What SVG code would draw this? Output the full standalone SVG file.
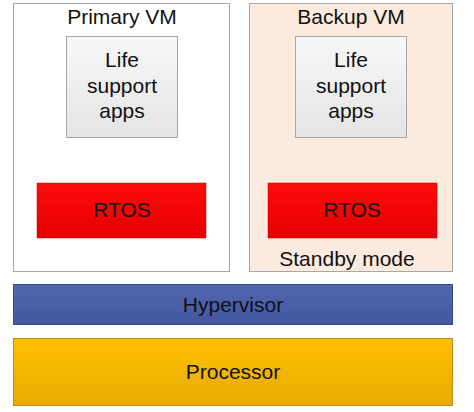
<svg xmlns="http://www.w3.org/2000/svg" width="474" height="412" viewBox="0 0 474 412">
<style>
text{font-family:"Liberation Sans",Arial,sans-serif;font-size:21px;fill:#111;text-anchor:middle}
.vm{stroke:#a6a6a6;stroke-width:1}
.life{fill:url(#gLife);stroke:#a6a6a6;stroke-width:1}
.rtos{fill:url(#gRed);stroke:#c00000;stroke-width:0.5}
</style>
<defs>
<linearGradient id="gLife" x1="0" y1="0" x2="0" y2="1"><stop offset="0" stop-color="#f7f7f7"/><stop offset="1" stop-color="#e4e4e4"/></linearGradient>
<linearGradient id="gRed" x1="0" y1="0" x2="0" y2="1"><stop offset="0" stop-color="#ff0a0a"/><stop offset="1" stop-color="#e60000"/></linearGradient>
<linearGradient id="gBlue" x1="0" y1="0" x2="0" y2="1"><stop offset="0" stop-color="#4f66b0"/><stop offset="1" stop-color="#44589f"/></linearGradient>
<linearGradient id="gGold" x1="0" y1="0" x2="0" y2="1"><stop offset="0" stop-color="#ffc000"/><stop offset="1" stop-color="#e8aa00"/></linearGradient>
</defs>
<g id="primary-vm">
<rect class="vm" x="13.5" y="3.5" width="216" height="268" fill="#ffffff"/>
<text x="122" y="24">Primary VM</text>
</g>
<g id="primary-apps">
<rect class="life" x="66.5" y="36.5" width="111" height="101"/>
<text x="122" y="67">Life</text>
<text x="122" y="93">support</text>
<text x="122" y="118">apps</text>
</g>
<g id="primary-rtos">
<rect class="rtos" x="37" y="183" width="169" height="55"/>
<text x="122" y="217">RTOS</text>
</g>
<g id="backup-vm">
<rect class="vm" x="249.5" y="3.5" width="203" height="268" fill="#fbeade"/>
<text x="351" y="24">Backup VM</text>
<text x="347" y="266">Standby mode</text>
</g>
<g id="backup-apps">
<rect class="life" x="295.5" y="36.5" width="111" height="101"/>
<text x="351" y="67">Life</text>
<text x="351" y="93">support</text>
<text x="351" y="118">apps</text>
</g>
<g id="backup-rtos">
<rect class="rtos" x="268" y="183" width="169" height="55"/>
<text x="352" y="217">RTOS</text>
</g>
<g id="hypervisor">
<rect x="13.5" y="284.5" width="439" height="40" fill="url(#gBlue)" stroke="#3a4d8c" stroke-width="1"/>
<text x="233" y="312">Hypervisor</text>
</g>
<g id="processor">
<rect x="13.5" y="338.5" width="439" height="67" fill="url(#gGold)" stroke="#b88a20" stroke-width="1"/>
<text x="233" y="379">Processor</text>
</g>
<g id="connectors"></g>
</svg>
